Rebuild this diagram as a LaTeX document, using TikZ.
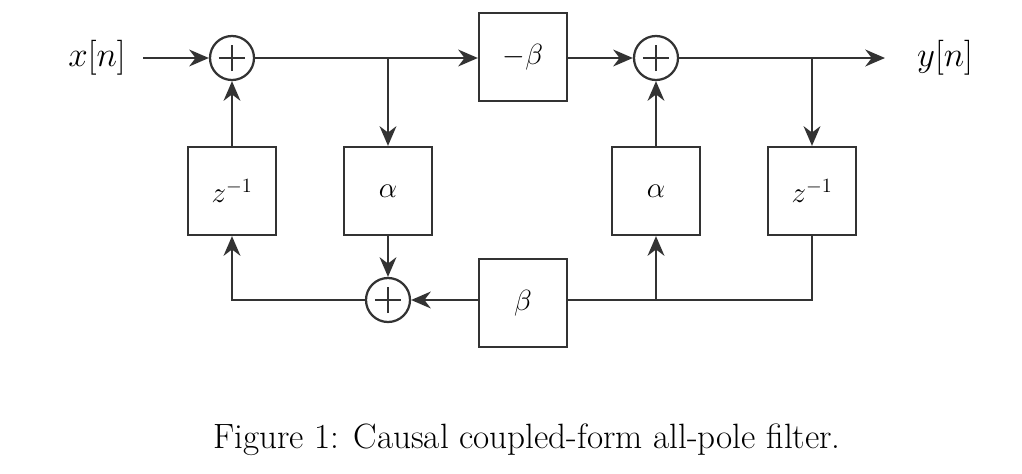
\documentclass[tikz,border=0pt]{standalone}
\usetikzlibrary{arrows.meta}
\begin{document}
\begin{tikzpicture}[x=0.025cm,y=-0.025cm,
  line width=1.6pt, draw=black!80,
  box/.style={draw=black!80,line width=1.6pt,minimum size=2.2cm,inner sep=0pt,font=\fontsize{22}{26}\selectfont},
  sum/.style={draw=black!80,line width=1.6pt,circle,minimum size=1.1cm,inner sep=0pt},
  pl/.style={line width=1.6pt},
  lab/.style={font=\fontsize{24}{28}\selectfont},
  arr/.style={-{Stealth[length=14pt,width=12pt]}}]
\useasboundingbox (0,0) rectangle (1022,474);
\node[lab] (x) at (97,58) {$x[n]$};
\node[lab] (y) at (945,58) {$y[n]$};
\node[sum] (s1) at (232,58) {}; \draw[pl] ([yshift=-0.33cm]s1.center)--([yshift=0.33cm]s1.center) ([xshift=-0.33cm]s1.center)--([xshift=0.33cm]s1.center);
\node[sum] (s2) at (656,58) {}; \draw[pl] ([yshift=-0.33cm]s2.center)--([yshift=0.33cm]s2.center) ([xshift=-0.33cm]s2.center)--([xshift=0.33cm]s2.center);
\node[sum] (s3) at (388,300) {}; \draw[pl] ([yshift=-0.33cm]s3.center)--([yshift=0.33cm]s3.center) ([xshift=-0.33cm]s3.center)--([xshift=0.33cm]s3.center);
\node[box] (mb) at (523,57) {$-\beta$};
\node[box] (b) at (523,303) {$\beta$};
\node[box] (z1) at (232,191) {$z^{-1}$};
\node[box] (a1) at (388,191) {$\alpha$};
\node[box] (a2) at (656,191) {$\alpha$};
\node[box] (z2) at (812,191) {$z^{-1}$};
\coordinate (xs) at (143,58);
\coordinate (ye) at (885,58);
\coordinate (j1) at (388,58);
\coordinate (j2) at (812,58);
\coordinate (bl) at (232,300);
\coordinate (br) at (812,300);
\coordinate (bm) at (656,300);
\coordinate (be) at (568,300);
\coordinate (bw) at (478,300);
\draw[arr] (xs)--(s1.west);
\draw[arr] (s1.east)--(j1)--(mb.west|-j1);
\draw[arr] (j1)--(a1.north);
\draw[arr] (mb.east|-j1)--(s2.west);
\draw[arr] (s2.east)--(ye);
\draw[arr] (j2)--(z2.north);
\draw[arr] (z1.north)--(s1.south);
\draw[arr] (a2.north)--(s2.south);
\draw[arr] (a1.south)--(s3.north);
\draw[arr] (bw)--(s3.east);
\draw[arr] (s3.west)--(bl)--(z1.south);
\draw (z2.south)--(br)--(be);
\draw[arr] (bm)--(a2.south);
\node[font=\fontsize{25}{29}\selectfont] (cap) at (527,440) {Figure 1: Causal coupled-form all-pole filter.};
\end{tikzpicture}
\end{document}
